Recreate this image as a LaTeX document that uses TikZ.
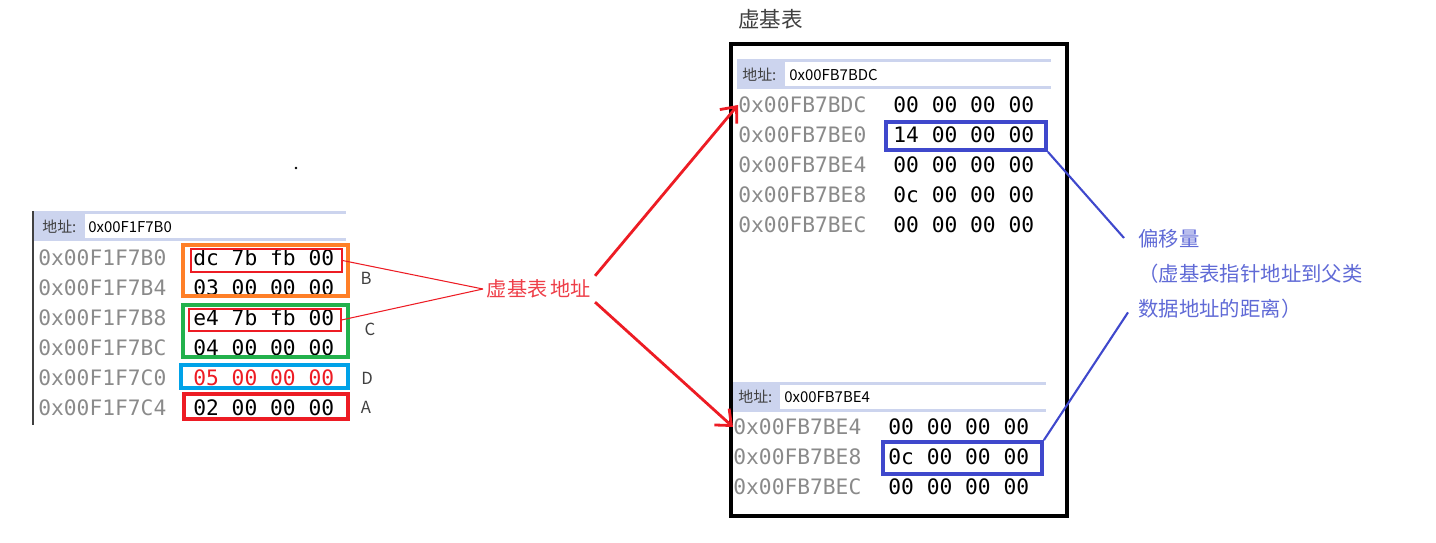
\documentclass[tikz,border=0pt]{standalone}
\usepackage{fontspec}
\newfontfamily\cjk{Noto Sans CJK SC}
\newfontfamily\hexfont{DejaVu Sans Mono}
\usepackage{xcolor}
\usetikzlibrary{arrows.meta,positioning,fit}
\definecolor{cinzaEnd}{RGB}{138,138,138}
\definecolor{azulBarra}{RGB}{204,212,238}
\definecolor{laranja}{RGB}{255,127,39}
\definecolor{verde}{RGB}{34,177,76}
\definecolor{ciano}{RGB}{0,162,232}
\definecolor{vermelho}{RGB}{237,28,36}
\definecolor{anil}{RGB}{63,72,204}
\definecolor{anilTexto}{RGB}{96,106,214}
\definecolor{rosaTexto}{RGB}{238,62,72}
\definecolor{letraCinza}{RGB}{64,64,64}
\tikzset{
    endereco/.style={
        anchor=west,
        inner sep=0pt,
        text=cinzaEnd,
        font=\hexfont\fontsize{12.1}{14}\selectfont
    },
    valor/.style={endereco, text=black},
    barra/.style={fill=azulBarra, draw=none, inner sep=0pt},
    campo/.style={fill=white, draw=none, inner sep=0pt},
    rotulo/.style={anchor=west, inner sep=0pt, text=letraCinza, font=\cjk\fontsize{8.5}{10}\selectfont},
    caixa/.style={draw, line width=2.2pt, inner sep=0pt},
    ponteiro/.style={draw=vermelho, line width=0.6pt, inner sep=0pt},
    letra/.style={inner sep=0pt, text=letraCinza, font=\cjk\fontsize{9.5}{11}\selectfont},
    seta/.style={-{Straight Barb[length=2.6mm,width=4.4mm]}, draw=vermelho, line width=1.6pt},
    ligacao/.style={draw=anil, line width=1.2pt}
}

\begin{document}
\begin{tikzpicture}[x=0.02cm, y=-0.02cm]
    \useasboundingbox (0,0) rectangle (1436,543);

    % memoria do objeto
    \node[barra, fit={(33,211) (346,241)}] (barraObj) {};
    \node[campo, fit={(85,214) (346,238)}] (campoObj) {};
    \draw[letraCinza, line width=1pt] (33,211) -- (33,425);
    \node[rotulo] (rotObj) at (42,227) {地址:};
    \node[rotulo, text=black] (endObj) at (88,227) {0x00F1F7B0};

    \node[endereco] (ea1) at (38,258) {0x00F1F7B0};
    \node[endereco] (ea2) at (38,288) {0x00F1F7B4};
    \node[endereco] (ea3) at (38,318) {0x00F1F7B8};
    \node[endereco] (ea4) at (38,348) {0x00F1F7BC};
    \node[endereco] (ea5) at (38,378) {0x00F1F7C0};
    \node[endereco] (ea6) at (38,408) {0x00F1F7C4};

    \node[valor] (va1) at (193,258) {dc 7b fb 00};
    \node[valor] (va2) at (193,288) {03 00 00 00};
    \node[valor] (va3) at (193,318) {e4 7b fb 00};
    \node[valor] (va4) at (193,348) {04 00 00 00};
    \node[valor, text=vermelho] (va5) at (193,378) {05 00 00 00};
    \node[valor] (va6) at (193,408) {02 00 00 00};

    \node[caixa, draw=laranja, fit={(183,245) (348,296)}] (caixaB) {};
    \node[caixa, draw=verde, fit={(183,305) (348,357)}] (caixaC) {};
    \node[caixa, draw=ciano, fit={(181,365) (348,388)}] (caixaD) {};
    \node[caixa, draw=vermelho, fit={(184,394) (348,419)}] (caixaA) {};
    \node[ponteiro, fit={(191,249) (342,272)}] (ptrB) {};
    \node[ponteiro, fit={(189,309) (341,331)}] (ptrC) {};

    \node[letra] (letraB) at (366,278) {B};
    \node[letra] (letraC) at (370,329) {C};
    \node[letra] (letraD) at (367,378) {D};
    \node[letra] (letraA) at (366,407) {A};

    \fill (296,168) circle (1.3);

    \node[inner sep=2pt, text=rosaTexto, font=\cjk\fontsize{11.5}{13}\selectfont]
        (vbaddr) at (539,289) {虚基表\,地址};

    % tabela de base virtual
    \node[anchor=west, inner sep=0pt, text=letraCinza, font=\cjk\fontsize{12.3}{14}\selectfont]
        (titulo) at (738,19) {虚基表};
    \node[draw, line width=2pt, inner sep=0pt, fit={(731,44) (1067,516)}] (quadro) {};

    \node[barra, fit={(737,59) (1051,89)}] (barraSup) {};
    \node[campo, fit={(785,62) (1051,86)}] (campoSup) {};
    \node[rotulo] (rotSup) at (742,75) {地址:};
    \node[rotulo, text=black] (endSup) at (789,75) {0x00FB7BDC};

    \node[endereco] (sa1) at (738,105) {0x00FB7BDC};
    \node[endereco] (sa2) at (738,135) {0x00FB7BE0};
    \node[endereco] (sa3) at (738,165) {0x00FB7BE4};
    \node[endereco] (sa4) at (738,195) {0x00FB7BE8};
    \node[endereco] (sa5) at (738,225) {0x00FB7BEC};

    \node[valor] (sv1) at (893,105) {00 00 00 00};
    \node[valor] (sv2) at (893,135) {14 00 00 00};
    \node[valor] (sv3) at (893,165) {00 00 00 00};
    \node[valor] (sv4) at (893,195) {0c 00 00 00};
    \node[valor] (sv5) at (893,225) {00 00 00 00};
    \node[caixa, draw=anil, fit={(886,122) (1046,150)}] (offSup) {};

    \node[barra, fit={(733,382) (1046,412)}] (barraInf) {};
    \node[campo, fit={(780,385) (1046,409)}] (campoInf) {};
    \node[rotulo] (rotInf) at (738,397) {地址:};
    \node[rotulo, text=black] (endInf) at (784,397) {0x00FB7BE4};

    \node[endereco] (ia1) at (733,427) {0x00FB7BE4};
    \node[endereco] (ia2) at (733,457) {0x00FB7BE8};
    \node[endereco] (ia3) at (733,487) {0x00FB7BEC};

    \node[valor] (iv1) at (888,427) {00 00 00 00};
    \node[valor] (iv2) at (888,457) {0c 00 00 00};
    \node[valor] (iv3) at (888,487) {00 00 00 00};
    \node[caixa, draw=anil, fit={(883,442) (1042,474)}] (offInf) {};

    \node[anchor=north west, inner sep=0pt, align=left, text=anilTexto,
          font=\cjk\fontsize{11.6}{19.8}\selectfont]
        (deslocamento) at (1138,229)
        {偏移量\\（虚基表指针地址到父类\\数据地址的距离）};

    \draw[vermelho, line width=0.6pt] (ptrB.east) -- (vbaddr.west);
    \draw[vermelho, line width=0.6pt] (ptrC.east) -- (vbaddr.west);
    \draw[seta] (vbaddr.north east) -- (sa1.west);
    \draw[seta] (vbaddr.south east) -- (ia1.west);
    \draw[ligacao] (offSup.south east) -- ([shift={(-14,9)}]deslocamento.north west);
    \draw[ligacao] (offInf.north east) -- ([shift={(-10,-6)}]deslocamento.south west);

\end{tikzpicture}
\end{document}
